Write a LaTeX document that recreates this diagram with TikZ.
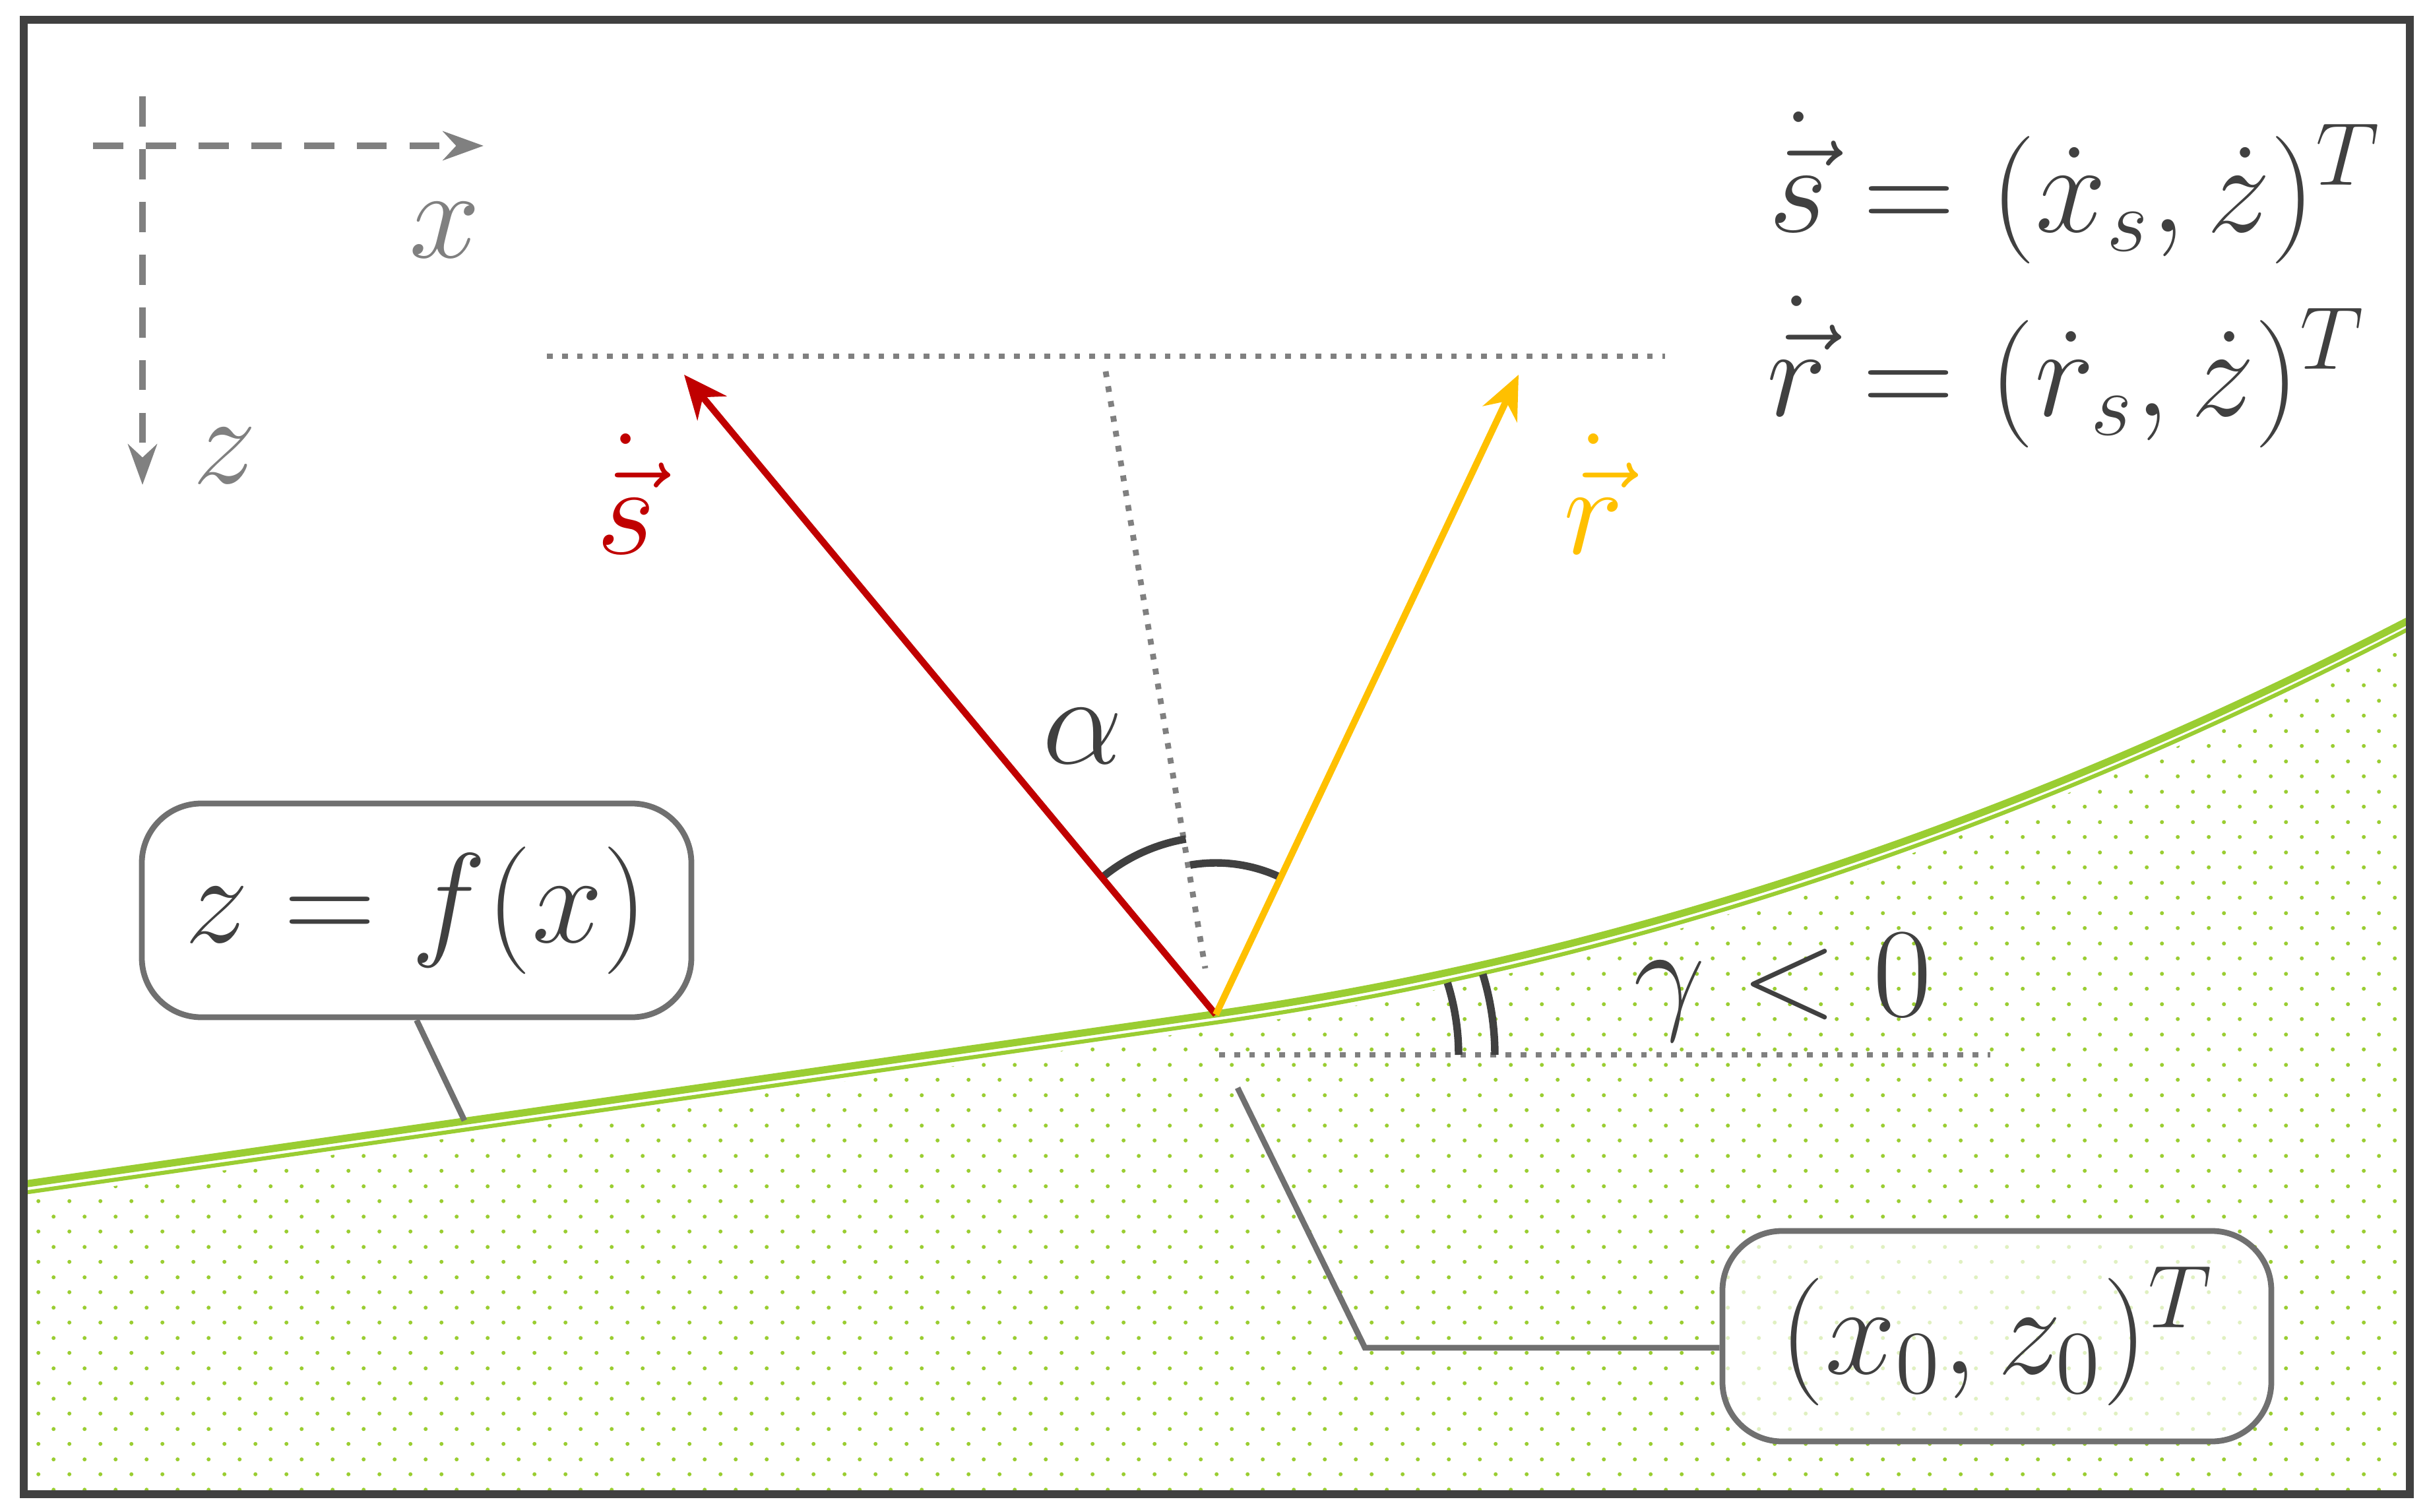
\RequirePackage{fix-cm}
\documentclass[tikz,border=0pt]{standalone}
\usepackage{tikz}
\usetikzlibrary{arrows.meta,patterns}
\definecolor{framegray}{HTML}{404040}
\definecolor{axisgray}{HTML}{808080}
\definecolor{boxgray}{HTML}{707070}
\definecolor{sred}{HTML}{C00000}
\definecolor{ryellow}{HTML}{FFC000}
\definecolor{groundgreen}{HTML}{9ACD32}
\pgfdeclarepatternformonly{grounddots}{\pgfqpoint{0pt}{0pt}}{\pgfqpoint{5.35pt}{5.24pt}}{\pgfqpoint{5.35pt}{5.24pt}}{%
	\pgfpathcircle{\pgfqpoint{1.3pt}{1.3pt}}{0.35pt}%
	\pgfpathcircle{\pgfqpoint{3.975pt}{3.92pt}}{0.35pt}%
	\pgfusepath{fill}}
\tikzset{
	every node/.style={font=\fontsize{22}{26}\selectfont, text=framegray},
	axisline/.style={draw=axisgray, line width=1.1pt, dash pattern=on 5.2pt off 3.9pt, -{Stealth[length=7pt,width=5pt]}},
	dotline/.style={draw=axisgray, line width=1pt, dash pattern=on 1pt off 1.6pt},
	sarrow/.style={draw=sred, line width=1.15pt, -{Stealth[length=7.5pt,width=6.5pt]}},
	rarrow/.style={draw=ryellow, line width=1.15pt, -{Stealth[length=7.5pt,width=6.5pt]}},
	anglearc/.style={draw=framegray, line width=1.3pt},
	labelbox/.style={draw=boxgray, line width=1pt, rounded corners=0.36cm, inner sep=0pt},
	leader/.style={draw=boxgray, line width=1pt},
}

\begin{document}
\begin{tikzpicture}
	%%%%% START %%%%%
	\useasboundingbox (0,0) rectangle (14.716,9.164);
	
	% ground below z = f(x)
	\fill[pattern=grounddots, pattern color=groundgreen, yshift=-0.09cm] (0.144,1.984) -- (7.372,3.016) .. controls (9.784,3.36) and (12.196,4.156) .. (14.608,5.404) -- (14.612,0.194) -- (0.144,0.194) -- cycle;
	\draw[groundgreen, line width=1.25pt] (0.144,1.984) -- (7.372,3.016) .. controls (9.784,3.36) and (12.196,4.156) .. (14.608,5.404);
	\draw[groundgreen, line width=0.7pt, yshift=-0.052cm] (0.144,1.984) -- (7.372,3.016) .. controls (9.784,3.36) and (12.196,4.156) .. (14.608,5.404);
	
	% axes
	\coordinate (xstart) at (0.564,8.28);
	\coordinate (xtip) at (2.932,8.28);
	\coordinate (zstart) at (0.864,8.58);
	\coordinate (ztip) at (0.864,6.224);
	\draw[axisline] (xstart) -- (xtip);
	\draw[axisline] (zstart) -- (ztip);
	\node[text=axisgray, anchor=base] (xlab) at (2.696,7.604) {$x$};
	\node[text=axisgray, anchor=base] (zlab) at (1.364,6.236) {$z$};
	
	\node[anchor=base west, inner sep=0pt] (eqs) at (10.72,7.76) {$\dot{\vec{s}} = (\dot{x}_s, \dot{z})^T$};
	\node[anchor=base west, inner sep=0pt] (eqr) at (10.708,6.644) {$\dot{\vec{r}} = (\dot{r}_s, \dot{z})^T$};
	
	% contact point and velocities
	\coordinate (C) at (7.372,3.012);
	\coordinate (G) at (7.392,2.768);
	\coordinate (stip) at (4.148,6.892);
	\coordinate (rtip) at (9.208,6.892);
	
	\draw[dotline] (3.316,7.004) -- (10.096,7.004);
	\draw[dotline] (6.704,6.912) -- (7.308,3.292);
	\draw[dotline] (G) -- (12.068,2.768);
	
	\draw[anglearc] ([shift={(99.7:1.08)}]C) arc[start angle=99.7, end angle=129.7, radius=1.08];
	\draw[anglearc] ([shift={(64.7:0.92)}]C) arc[start angle=64.7, end angle=99.7, radius=0.92];
	\draw[anglearc] ([shift={(0:1.452)}]G) arc[start angle=0, end angle=17.5, radius=1.452];
	\draw[anglearc] ([shift={(0:1.672)}]G) arc[start angle=0, end angle=17, radius=1.672];
	
	\draw[sarrow] (C) -- (stip);
	\draw[rarrow] (C) -- (rtip);
	\node[text=sred, anchor=base] (slab) at (3.796,5.808) {$\dot{\vec{s}}$};
	\node[text=ryellow, anchor=base] (rlab) at (9.664,5.808) {$\dot{\vec{r}}$};
	\node[anchor=base] (alpha) at (6.564,4.536) {$\alpha$};
	\node[anchor=base] (gamma) at (10.808,3.004) {$\gamma < 0$};
	
	% callouts
	\node[labelbox, minimum width=3.332cm, minimum height=1.296cm] (fbox) at (2.526,3.644) {$z = f(x)$};
	\node[labelbox, fill=white, fill opacity=0.7, text opacity=1, minimum width=3.328cm, minimum height=1.276cm] (x0box) at (12.108,1.062) {$(x_0, z_0)^T$};
	\coordinate (ffoot) at (2.816,2.37);
	\coordinate (x0foot) at (7.504,2.568);
	\coordinate (x0bend) at (8.276,0.992);
	\draw[leader] (fbox.south) -- (ffoot);
	\draw[leader] (x0foot) -- (x0bend) -- (x0bend -| x0box.west);
	
	\draw[framegray, line width=1.4pt] (0.144,0.104) rectangle (14.612,9.044);
	%%%%% END %%%%%
\end{tikzpicture}
\end{document}
